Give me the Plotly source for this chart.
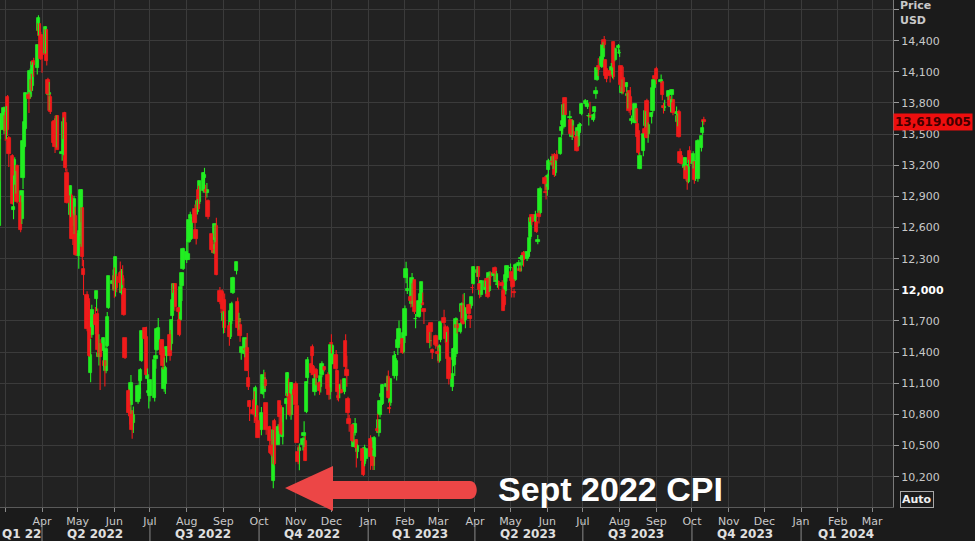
import pandas as pd
import plotly.graph_objects as go

# ---------------- data (Nasdaq Composite daily candles) ----------------
holidays = ["2022-04-15", "2022-05-30", "2022-06-20", "2022-07-04", "2022-09-05",
            "2022-11-24", "2022-12-26", "2023-01-02", "2023-01-16", "2023-02-20",
            "2023-04-07", "2023-05-29", "2023-06-19", "2023-07-04", "2023-09-04"]
dates = [d for d in pd.bdate_range("2022-02-22", "2023-10-11")
         if d.strftime("%Y-%m-%d") not in holidays]

open_ = [
    13460, 13490, 12615, 13535, 13539,  # Feb 22
    13677, 13551, 13853, 13460, 13286, 12772, 13040, 13063, 13193, 12838, 12680, 13081, 13380, 13551,
    13874, 13861, 14021, 13962, 14203, 14138, 14494, 14560, 14454,  # Mar 22
    14274, 14276, 14499, 14024, 13879, 13856, 13617, 13623, 13386, 13678, 13307, 13313, 13699, 13606,
    13126, 12723, 12905, 12545, 12619, 12713,  # Apr 22
    12328, 12522, 12552, 12790, 12205, 11947, 11914, 11628, 11199, 11567, 11758, 11909, 11764, 11352,
    11477, 11412, 11318, 11215, 11457, 11824, 12057,  # May 22
    12135, 12000, 12124, 12164, 11970, 12129, 12007, 11534, 11026, 10862, 10886, 10831, 10716, 10919,
    10952, 11124, 11310, 11637, 11541, 11141, 11006,  # Jun 22
    10980, 10962, 11330, 11418, 11516, 11512, 11416, 11042, 11089, 11360, 11563, 11480, 11752, 11894,
    12059, 11822, 11710, 11707, 12034, 12202,  # Jul 22
    12287, 12292, 12460, 12687, 12489, 12778, 12580, 12749, 12957, 12848, 12952, 13080, 12957, 12929,
    12859, 12539, 12382, 12353, 12480, 12612, 11993, 11967, 11977,  # Aug 22
    11704, 11901, 11655, 11549, 11698, 11968, 12186, 11880, 11690, 11663, 11394, 11386, 11428, 11442,
    11148, 10925, 10844, 10929, 10828, 10882, 10735,  # Sep 22
    10647, 10992, 11018, 11127, 10910, 10678, 10499, 10449, 10159, 10741, 10509, 10927, 10694, 10717,
    10580, 10901, 10982, 11001, 10991, 10792, 11039,  # Oct 22
    11091, 10880, 10441, 10444, 10502, 10591, 10541, 10828, 11147, 11283, 11446, 11254, 11018, 11231,
    11102, 11063, 11176, 11252, 11180, 11053, 11014,  # Nov 22
    11487, 11290, 11372, 11219, 10974, 11037, 11033, 11020, 11503, 11229, 10951, 10758, 10694, 10487,
    10622, 10558, 10436, 10462, 10339, 10321, 10368,  # Dec 22
    10562, 10471, 10390, 10389, 10664, 10623, 10798, 10966, 10901, 11065, 11165, 10866, 10909, 11166,
    11297, 11169, 11441, 11474, 11528, 11400,  # Jan 23
    11558, 12112, 11988, 11935, 11861, 12059, 12091, 11715, 11739, 11825, 11888, 11872, 11812, 11656,
    11504, 11681, 11418, 11558, 11457,  # Feb 23
    11402, 11312, 11512, 11731, 11640, 11548, 11635, 11343, 11068, 11326, 11275, 11383, 11659, 11598,
    11784, 11845, 11752, 11711, 11854, 11747, 11840, 12019, 12058,  # Mar 23
    12159, 12223, 12060, 11955, 11994, 12107, 12102, 11990, 12128, 12129, 12213, 12076, 12049, 12074,
    12066, 11984, 11934, 11984, 12111,  # Apr 23
    12210, 12169, 12097, 11982, 12094, 12233, 12196, 12300, 12287, 12356, 12299, 12318, 12366, 12512,
    12721, 12664, 12658, 12464, 12726, 12736, 13081, 12943,  # May 23
    12960, 13159, 13233, 13203, 13295, 13121, 13295, 13312, 13530, 13587, 13564, 13846, 13653, 13634,
    13474, 13520, 13476, 13381, 13512, 13581, 13690,  # Jun 23
    13795, 13757, 13678, 13666, 13640, 13716, 13891, 14024, 14158, 14148, 14240, 14408, 14211, 14127,
    14105, 14086, 14094, 14385, 14216, 14330,  # Jul 23
    14282, 14154, 13897, 14037, 13956, 13870, 13913, 13853, 13627, 13606, 13738, 13601, 13526, 13164,
    13334, 13553, 13583, 13822, 13505, 13668, 13718, 13946, 14060,  # Aug 23
    14129, 14006, 14003, 13773, 13749, 13862, 13854, 13759, 13880, 13832, 13690, 13621, 13717, 13328,
    13287, 13172, 13180, 13115, 13043, 13337,  # Sep 23
    13217, 13234, 13089, 13218, 13064, 13366, 13510, 13640,  # Oct 23
]

high = [
    13620, 13500, 13474, 13694, 13767,
    13712, 13772, 13878, 13483, 13306, 13102, 13277, 13144, 13207, 12908, 12955, 13438, 13622, 13899,
    13904, 14133, 14082, 14193, 14235, 14354, 14646, 14567, 14487,
    14305, 14540, 14511, 14044, 14003, 13884, 13630, 13678, 13681, 13683, 13410, 13659, 13715, 13710,
    13170, 13006, 12925, 12735, 12906, 12801,
    12546, 12652, 12971, 12792, 12289, 11987, 11944, 11891, 11526, 11856, 11834, 11986, 11819, 11573,
    11523, 11540, 11321, 11501, 11786, 12131, 12197,
    12216, 12321, 12156, 12273, 12201, 12238, 12112, 11534, 11043, 10932, 11180, 10833, 10876, 11087,
    11175, 11244, 11608, 11643, 11644, 11241, 11107,
    11135, 11323, 11475, 11630, 11729, 11522, 11507, 11349, 11268, 11456, 11614, 11713, 11971, 12060,
    12067, 11830, 11714, 12081, 12166, 12405,
    12487, 12477, 12684, 12751, 12702, 12821, 12581, 12874, 13002, 13048, 13134, 13175, 13012, 13030,
    12871, 12539, 12466, 12507, 12640, 12695, 12028, 11997, 12006,
    11794, 11964, 11690, 11827, 11885, 12126, 12270, 11926, 11779, 11724, 11449, 11535, 11525, 11585,
    11219, 10939, 10949, 11022, 11077, 10889, 10884,
    10872, 11176, 11230, 11205, 10910, 10690, 10560, 10512, 10650, 10758, 10705, 10927, 10824, 10888,
    10863, 10962, 11208, 11146, 11001, 11111, 11055,
    11117, 11074, 10500, 10520, 10581, 10734, 10593, 11118, 11353, 11383, 11474, 11275, 11189, 11246,
    11118, 11175, 11313, 11264, 11206, 11061, 11468,
    11571, 11476, 11420, 11229, 11048, 11088, 11137, 11145, 11571, 11365, 10970, 10795, 10697, 10628,
    10765, 10561, 10511, 10463, 10414, 10508, 10467,
    10599, 10539, 10393, 10593, 10807, 10747, 10932, 11020, 11091, 11174, 11223, 10923, 11143, 11410,
    11381, 11317, 11515, 11705, 11533, 11586,
    11849, 12270, 12158, 11943, 12162, 12081, 12092, 11768, 11900, 12000, 12073, 11975, 11819, 11670,
    11593, 11683, 11436, 11567, 11540,
    11447, 11476, 11690, 11809, 11667, 11595, 11653, 11361, 11355, 11449, 11439, 11737, 11706, 11686,
    11880, 11958, 11970, 11825, 11866, 11752, 11930, 12053, 12227,
    12227, 12227, 12062, 12094, 12087, 12111, 12121, 12179, 12178, 12160, 12224, 12181, 12146, 12090,
    12093, 12010, 11994, 12155, 12231,
    12254, 12174, 12218, 12010, 12256, 12287, 12235, 12335, 12333, 12374, 12371, 12392, 12519, 12703,
    12731, 12761, 12695, 12528, 12765, 12994, 13096, 12992,
    13119, 13263, 13311, 13291, 13319, 13248, 13344, 13463, 13594, 13656, 13794, 13854, 13726, 13644,
    13640, 13582, 13532, 13562, 13612, 13607, 13800,
    13839, 13829, 13703, 13812, 13701, 13767, 13956, 14143, 14232, 14272, 14385, 14446, 14222, 14131,
    14109, 14186, 14143, 14394, 14334, 14369,
    14316, 14160, 14027, 14148, 14002, 13901, 13915, 13953, 13679, 13792, 13746, 13645, 13528, 13322,
    13509, 13569, 13723, 13840, 13611, 13713, 13966, 14028, 14090,
    14149, 14075, 14012, 13802, 13832, 13923, 13871, 13836, 13930, 13840, 13766, 13698, 13734, 13362,
    13335, 13278, 13199, 13157, 13253, 13382,
    13336, 13239, 13246, 13244, 13450, 13485, 13630, 13668,
]

low = [
    13262, 13032, 12587, 13450, 13500,
    13436, 13450, 13481, 13184, 12822, 12680, 13012, 12927, 12833, 12555, 12633, 12971, 13358, 13536,
    13703, 13844, 13911, 13916, 14052, 14075, 14451, 14406, 14213,
    14091, 14276, 14160, 13725, 13733, 13694, 13404, 13319, 13370, 13351, 13243, 13296, 13407, 13140,
    12831, 12701, 12490, 12433, 12539, 12328,
    12202, 12442, 12415, 12227, 11949, 11600, 11576, 11356, 11109, 11538, 11575, 11797, 11387, 11270,
    11036, 11259, 11068, 11197, 11447, 11818, 11991,
    11924, 11935, 11976, 11985, 11955, 12046, 11750, 11333, 10782, 10702, 10805, 10566, 10620, 10902,
    10947, 10996, 11307, 11475, 11178, 11098, 10857,
    10924, 10924, 11240, 11412, 11500, 11352, 11236, 11019, 10996, 11300, 11318, 11417, 11704, 11810,
    11798, 11718, 11554, 11705, 11893, 12191,
    12258, 12289, 12454, 12609, 12483, 12573, 12437, 12725, 12771, 12827, 12936, 12972, 12860, 12890,
    12680, 12360, 12352, 12346, 12458, 12141, 11860, 11777, 11815,
    11579, 11583, 11461, 11526, 11671, 11960, 12148, 11605, 11616, 11500, 11327, 11351, 11342, 11218,
    11034, 10736, 10792, 10717, 10777, 10653, 10576,
    10598, 10992, 10956, 11045, 10603, 10460, 10405, 10394, 10089, 10310, 10509, 10637, 10623, 10598,
    10511, 10752, 10975, 10965, 10780, 10748, 10957,
    10847, 10524, 10320, 10262, 10452, 10487, 10350, 10812, 11099, 11176, 11209, 11172, 10982, 11080,
    10988, 11011, 11158, 11214, 11032, 10941, 10947,
    11387, 11283, 11208, 10936, 10925, 10955, 11002, 10993, 11203, 11067, 10750, 10633, 10531, 10486,
    10597, 10289, 10377, 10312, 10207, 10300, 10348,
    10266, 10331, 10265, 10265, 10624, 10586, 10769, 10868, 10890, 11028, 10950, 10810, 10883, 11147,
    11278, 11127, 11372, 11469, 11385, 11389,
    11488, 12064, 11961, 11831, 11836, 11898, 11766, 11630, 11730, 11764, 11869, 11851, 11670, 11488,
    11438, 11455, 11334, 11432, 11452,
    11297, 11300, 11495, 11649, 11491, 11497, 11320, 11087, 11026, 11263, 11170, 11352, 11579, 11579,
    11723, 11665, 11694, 11629, 11727, 11632, 11820, 11966, 12051,
    12123, 12075, 11919, 11930, 11963, 12019, 11919, 11979, 12040, 12076, 12095, 12065, 12021, 12003,
    11974, 11798, 11838, 11955, 12080,
    12184, 11925, 12021, 11925, 12084, 12186, 12171, 12176, 12235, 12223, 12278, 12306, 12323, 12490,
    12621, 12653, 12549, 12440, 12640, 12728, 12954, 12869,
    12907, 13096, 13191, 13164, 13088, 13100, 13244, 13302, 13474, 13497, 13553, 13685, 13640, 13480,
    13444, 13466, 13332, 13377, 13494, 13534, 13681,
    13766, 13743, 13583, 13656, 13620, 13652, 13841, 14013, 14061, 14136, 14210, 14327, 14037, 13999,
    13998, 14071, 14037, 14025, 14202, 14275,
    14244, 13951, 13883, 13885, 13908, 13747, 13707, 13682, 13595, 13605, 13618, 13472, 13301, 13162,
    13287, 13470, 13566, 13460, 13416, 13602, 13702, 13933, 14019,
    13980, 13994, 13827, 13698, 13722, 13829, 13766, 13712, 13804, 13682, 13682, 13576, 13467, 13220,
    13208, 13152, 13051, 12963, 13026, 13187,
    13170, 13022, 13049, 13135, 13041, 13333, 13490, 13590,
]

close = [
    13381, 13038, 13474, 13694, 13751,
    13532, 13752, 13537, 13313, 12830, 12795, 13255, 13130, 12843, 12581, 12949, 13437, 13615, 13894,
    13838, 14109, 13923, 14191, 14169, 14354, 14620, 14442, 14221,
    14262, 14532, 14204, 13888, 13897, 13711, 13411, 13372, 13644, 13351, 13332, 13619, 13453, 13175,
    12840, 13005, 12491, 12489, 12872, 12335,
    12536, 12564, 12965, 12318, 12145, 11623, 11738, 11364, 11371, 11805, 11663, 11985, 11418, 11389,
    11355, 11535, 11264, 11434, 11741, 12131, 12081,
    11994, 12317, 12013, 12062, 12175, 12087, 11755, 11340, 10809, 10829, 11099, 10646, 10798, 11069,
    11053, 11232, 11608, 11525, 11182, 11178, 11029,
    11128, 11323, 11362, 11621, 11635, 11373, 11265, 11248, 11251, 11452, 11360, 11713, 11898, 12060,
    11834, 11782, 11563, 12032, 12163, 12391,
    12369, 12349, 12668, 12721, 12657, 12645, 12493, 12855, 12780, 13047, 13128, 13103, 12938, 12966,
    12706, 12381, 12381, 12431, 12639, 12141, 11884, 11883, 11816,
    11785, 11631, 11544, 11792, 11862, 12112, 12266, 11634, 11719, 11552, 11448, 11535, 11425, 11220,
    11066, 10868, 10802, 10829, 11051, 10737, 10576,
    10815, 11176, 11148, 11073, 10652, 10542, 10426, 10417, 10649, 10321, 10675, 10773, 10680, 10614,
    10859, 10952, 11199, 10970, 10792, 11102, 10988,
    10890, 10524, 10342, 10475, 10565, 10617, 10353, 11114, 11323, 11196, 11358, 11184, 11145, 11146,
    11024, 11174, 11285, 11226, 11049, 10984, 11468,
    11482, 11461, 11240, 11015, 10959, 11082, 11005, 11144, 11256, 11170, 10811, 10705, 10546, 10547,
    10709, 10476, 10497, 10353, 10213, 10479, 10466,
    10386, 10459, 10305, 10569, 10636, 10743, 10932, 11001, 11079, 11095, 10957, 10852, 11140, 11364,
    11334, 11313, 11512, 11622, 11394, 11585,
    11816, 12201, 12007, 11888, 12114, 11910, 11790, 11718, 11892, 11960, 12071, 11856, 11787, 11492,
    11507, 11590, 11395, 11467, 11456,
    11380, 11462, 11689, 11676, 11530, 11577, 11338, 11138, 11189, 11428, 11434, 11717, 11631, 11675,
    11860, 11670, 11788, 11824, 11768, 11717, 11927, 12013, 12222,
    12190, 12126, 11996, 12088, 12084, 12031, 11929, 12166, 12124, 12158, 12153, 12157, 12060, 12073,
    12037, 11799, 11854, 12143, 12227,
    12213, 12081, 12025, 11966, 12235, 12256, 12180, 12306, 12329, 12284, 12366, 12343, 12501, 12688,
    12658, 12721, 12560, 12484, 12698, 12975, 13017, 12935,
    13101, 13241, 13230, 13276, 13104, 13239, 13259, 13461, 13573, 13626, 13782, 13689, 13667, 13502,
    13630, 13492, 13335, 13555, 13591, 13592, 13788,
    13816, 13791, 13679, 13661, 13685, 13761, 13919, 14138, 14114, 14244, 14354, 14358, 14063, 14033,
    14059, 14145, 14128, 14051, 14317, 14346,
    14284, 13974, 13960, 13909, 13994, 13885, 13723, 13737, 13645, 13789, 13632, 13475, 13317, 13291,
    13498, 13506, 13721, 13464, 13591, 13705, 13944, 14020, 14035,
    14031, 14021, 13873, 13749, 13762, 13918, 13774, 13814, 13926, 13708, 13710, 13679, 13470, 13224,
    13212, 13271, 13064, 13093, 13201, 13219,
    13308, 13059, 13237, 13220, 13431, 13485, 13563, 13619.005,
]

y_tick_values = [10200, 10500, 10800, 11100, 11400, 11700, 12000, 12300, 12600,
                 12900, 13200, 13500, 13800, 14100, 14400, 14700]
month_ticks = pd.date_range("2022-03-01", "2024-03-01", freq="MS")
quarter_labels = ["Q2 2022", "Q3 2022", "Q4 2022", "Q1 2023", "Q2 2023",
                  "Q3 2023", "Q4 2023", "Q1 2024"]
quarter_centers = ["2022-05-16", "2022-08-15", "2022-11-15", "2023-02-14",
                   "2023-05-16", "2023-08-15", "2023-11-15", "2024-02-08"]
first_quarter_label = "Q1 22"
quarter_bounds = ["2022-04-01", "2022-07-01", "2022-10-01", "2023-01-01", "2023-04-01",
                  "2023-07-01", "2023-10-01", "2024-01-01"]
last_price = 13619.005
annotation_text = "Sept 2022 CPI"

n = len(dates)
assert len(open_) == n and len(high) == n and len(low) == n and len(close) == n, \
    (n, len(open_), len(high), len(low), len(close))

# ---------------- styling ----------------
UP = "#22ee22"
DOWN = "#f01c1c"
BG = "#1b1b1b"
PLOT_BG = "#222222"
GRID = "#3b3b3b"
TXT = "#c9c9c9"
FONT = "DejaVu Sans"
DAY_MS = 86400000

fig = go.Figure()

for is_up, col in [(True, UP), (False, DOWN)]:
    idx = [i for i in range(n) if (close[i] >= open_[i]) == is_up]
    wx, wy = [], []
    for i in idx:
        wx += [dates[i], dates[i], None]
        wy += [low[i], high[i], None]
    fig.add_trace(go.Scatter(x=wx, y=wy, mode="lines", line=dict(color=col, width=1.1),
                             hoverinfo="skip", showlegend=False))
    fig.add_trace(go.Bar(x=[dates[i] for i in idx],
                         y=[abs(close[i] - open_[i]) for i in idx],
                         base=[min(open_[i], close[i]) for i in idx],
                         width=2.9 * DAY_MS,
                         marker=dict(color=col, line=dict(color=col, width=0.8)),
                         hoverinfo="skip", showlegend=False))

W, H = 975, 541
L, R, T, B = 0, 82, 0, 34
pw, ph = W - L - R, H - T - B


def px_x(px):
    return px / pw


def px_y(py):
    return (ph - py) / ph


ytext = []
for v in y_tick_values:
    if v == 14700:
        ytext.append("")
    elif v == 12000:
        ytext.append("<b><span style='color:#ffffff'>12,000</span></b>")
    else:
        ytext.append(f"{v:,}")

fig.update_layout(
    width=W, height=H,
    margin=dict(l=L, r=R, t=T, b=B),
    paper_bgcolor=BG, plot_bgcolor=PLOT_BG,
    barmode="overlay", bargap=0,
    showlegend=False,
    font=dict(family=FONT, size=11, color=TXT),
    xaxis=dict(
        type="date",
        range=["2022-02-24 14:00", "2024-03-18 12:00"],
        tickvals=list(month_ticks),
        ticktext=[d.strftime("%b") for d in month_ticks],
        tickfont=dict(family=FONT, size=11, color=TXT),
        ticks="outside", ticklen=4, tickcolor="#8a8a8a",
        showgrid=True, gridcolor=GRID, gridwidth=1,
        showline=True, linecolor="#5a5a5a", linewidth=1,
        zeroline=False, fixedrange=True,
    ),
    yaxis=dict(
        side="right",
        range=[9908, 14792],
        tickvals=y_tick_values,
        ticktext=ytext,
        tickfont=dict(family=FONT, size=11, color=TXT),
        ticks="outside", ticklen=5, tickcolor="#9a9a9a",
        showgrid=True, gridcolor=GRID, gridwidth=1,
        showline=True, linecolor="#7a7a7a", linewidth=1,
        zeroline=False, fixedrange=True,
    ),
)

shapes = []
# quarter separators under the month labels
for qb in quarter_bounds:
    shapes.append(dict(type="line", xref="x", yref="paper", x0=qb, x1=qb,
                       y0=px_y(522), y1=px_y(541),
                       line=dict(color="#8a8a8a", width=1)))

# big red arrow pointing at the Sept 2022 CPI low
tip = (px_x(285), px_y(488))
hx = px_x(333)
ht, hb = px_y(466), px_y(511)
st, sb = px_y(481), px_y(499)
ex = px_x(470)
ex2 = px_x(479)
path = (f"M {tip[0]},{tip[1]} L {hx},{ht} L {hx},{st} L {ex},{st} "
        f"C {ex2},{st} {ex2},{sb} {ex},{sb} L {hx},{sb} L {hx},{hb} Z")
shapes.append(dict(type="path", xref="paper", yref="paper", path=path,
                   fillcolor="#ec4646", line=dict(width=0)))
fig.update_layout(shapes=shapes)

ann = []
ann.append(dict(x=0, xref="paper", y=px_y(534), yref="paper",
                text=f"<b>{first_quarter_label}</b>", showarrow=False,
                xanchor="left", yanchor="middle",
                font=dict(family=FONT, size=12, color="#e0e0e0")))
for lab, c in zip(quarter_labels, quarter_centers):
    ann.append(dict(x=c, xref="x", y=px_y(534), yref="paper", text=f"<b>{lab}</b>",
                    showarrow=False, xanchor="center", yanchor="middle",
                    font=dict(family=FONT, size=12, color="#e0e0e0")))

ann.append(dict(x=px_x(496), xref="paper", y=px_y(489), yref="paper",
                text=f"<b>{annotation_text}</b>", showarrow=False,
                xanchor="left", yanchor="middle",
                font=dict(family="Liberation Sans", size=34, color="#ffffff")))

ann.append(dict(x=1, xref="paper", y=last_price, yref="y",
                text=f"<b>{last_price:,.3f}</b>", showarrow=False,
                xanchor="left", yanchor="middle", xshift=0,
                bgcolor="#ee0e0e", borderpad=1,
                font=dict(family=FONT, size=12, color="#420000")))

ann.append(dict(x=px_x(898), xref="paper", y=px_y(5), yref="paper",
                text="<b>Price</b>", showarrow=False, xanchor="left", yanchor="middle",
                font=dict(family=FONT, size=11, color=TXT)))
ann.append(dict(x=px_x(898), xref="paper", y=px_y(21), yref="paper",
                text="<b>USD</b>", showarrow=False, xanchor="left", yanchor="middle",
                font=dict(family=FONT, size=11, color=TXT)))
ann.append(dict(x=px_x(917), xref="paper", y=px_y(499), yref="paper",
                text="<b>Auto</b>", showarrow=False, xanchor="center", yanchor="middle",
                bordercolor="#a8a8a8", borderwidth=1, borderpad=1,
                font=dict(family=FONT, size=11, color="#f0f0f0")))
fig.update_layout(annotations=ann)

fig.write_html("out.html")
